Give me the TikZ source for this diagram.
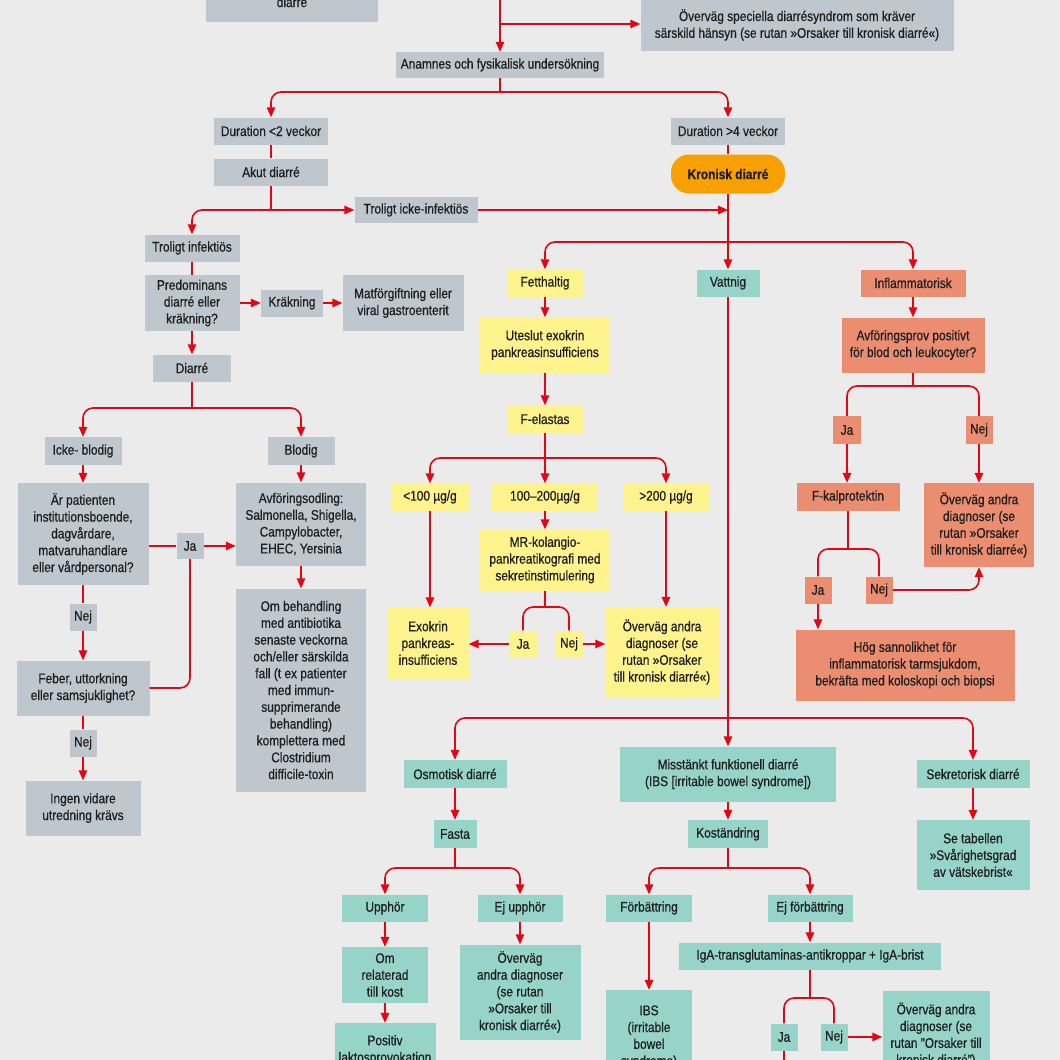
\documentclass[tikz,border=0pt]{standalone}
\usepackage{fontspec}
\setmainfont{Liberation Sans}[FakeStretch=0.85,FakeBold=0.6]
\usetikzlibrary{arrows.meta}
\definecolor{bgc}{HTML}{EBEBEB}
\definecolor{gboxc}{HTML}{BEC7CE}
\definecolor{ybox}{HTML}{FEF38C}
\definecolor{tbox}{HTML}{96D4C9}
\definecolor{sbox}{HTML}{EA8D71}
\definecolor{obox}{HTML}{F7A000}
\definecolor{redl}{HTML}{E30613}
\definecolor{txt}{HTML}{1E1E1E}
\newcommand{\fs}{\fontsize{14}{16.8}\selectfont}
\tikzset{
 bx/.style={inner sep=0pt, align=center, text=txt, font=\fs},
 gb/.style={bx, fill=gboxc},
 yb/.style={bx, fill=ybox},
 tb/.style={bx, fill=tbox},
 sb/.style={bx, fill=sbox},
 ob/.style={bx, fill=obox, rounded corners=18pt, font=\fs\bfseries},
 sz/.style 2 args={minimum width=#1pt, minimum height=#2pt},
 ln/.style={draw=redl, line width=1.6pt},
 ar/.style={ln, -{Triangle[length=10pt,width=8.5pt]}},
 rc/.style={rounded corners=10pt}
}
\begin{document}
\begin{tikzpicture}[x=1pt,y=-1pt]
\useasboundingbox (0,0) rectangle (1060,1060);
\clip (0,0) rectangle (1060,1060);
\fill[bgc] (0,0) rectangle (1060,1060);

% ---------- top ----------
\node[gb,sz={172}{40}] (tl) at (292,2) {diarré};
\node[gb,sz={313}{52}] (ovsp) at (797,25) {Överväg speciella diarrésyndrom som kräver\\särskild hänsyn (se rutan »Orsaker till kronisk diarré«)};
\node[gb,sz={208}{26}] (anam) at (500,65) {Anamnes och fysikalisk undersökning};
\node[gb,sz={114}{27}] (dur1) at (271,131) {Duration <2 veckor};
\node[gb,sz={114}{27}] (dur2) at (728,131) {Duration >4 veckor};
\node[gb,sz={114}{27}] (akut) at (271,172) {Akut diarré};
\node[ob,sz={114}{39}] (kron) at (728,174) {Kronisk diarré};
\node[gb,sz={123}{26}] (tii) at (416,210) {Troligt icke-infektiös};

% ---------- left ----------
\node[gb,sz={95}{27}] (ti) at (192,248) {Troligt infektiös};
\node[gb,sz={95}{56}] (pred) at (192,303) {Predominans\\diarré eller\\kräkning?};
\node[gb,sz={62}{27}] (krak) at (292,303) {Kräkning};
\node[gb,sz={121}{56}] (matf) at (403,303) {Matförgiftning eller\\viral gastroenterit};
\node[gb,sz={78}{27}] (diar) at (192,368) {Diarré};
\node[gb,sz={77}{28}] (icke) at (83,451) {Icke- blodig};
\node[gb,sz={67}{28}] (blod) at (301,451) {Blodig};
\node[gb,sz={131}{102}] (arp) at (83,534) {Är patienten\\institutionsboende,\\dagvårdare,\\matvaruhandlare\\eller vårdpersonal?};
\node[gb,sz={130}{83}] (avf) at (301,524) {Avföringsodling:\\Salmonella, Shigella,\\Campylobacter,\\EHEC, Yersinia};
\node[gb,sz={27}{26}] (jaL) at (190,546) {Ja};
\node[gb,sz={27}{27}] (nejL1) at (83,617) {Nej};
\node[gb,sz={133}{55}] (feb) at (83,688) {Feber, uttorkning\\eller samsjuklighet?};
\node[gb,sz={27}{27}] (nejL2) at (83,743) {Nej};
\node[gb,sz={115}{55}] (ing) at (83,808) {Ingen vidare\\utredning krävs};
\node[gb,sz={130}{203}] (omb) at (301,690) {Om behandling\\med antibiotika\\senaste veckorna\\och/eller särskilda\\fall (t ex patienter\\med immun-\\supprimerande\\behandling)\\komplettera med\\Clostridium\\difficile-toxin};

% ---------- fetthaltig ----------
\node[yb,sz={77}{27}] (fett) at (545,283) {Fetthaltig};
\node[yb,sz={130}{55}] (utes) at (545,345) {Uteslut exokrin\\pankreasinsufficiens};
\node[yb,sz={77}{27}] (fel) at (545,419) {F-elastas};
\node[yb,sz={78}{27}] (lt) at (430,497) {<100 µg/g};
\node[yb,sz={106}{27}] (mid) at (545,497) {100–200µg/g};
\node[yb,sz={85}{27}] (gt) at (666,497) {>200 µg/g};
\node[yb,sz={130}{61}] (mr) at (545,560) {MR-kolangio-\\pankreatikografi med\\sekretinstimulering};
\node[yb,sz={27}{27}] (jaY) at (523,644) {Ja};
\node[yb,sz={27}{27}] (nejY) at (569,644) {Nej};
\node[yb,sz={81}{71}] (exo) at (428,643) {Exokrin\\pankreas-\\insufficiens};
\node[yb,sz={113}{90}] (ovY) at (662,652) {Överväg andra\\diagnoser (se\\rutan »Orsaker\\till kronisk diarré«)};

% ---------- inflammatorisk ----------
\node[tb,sz={63}{27}] (vatt) at (728,283) {Vattnig};
\node[sb,sz={105}{27}] (infl) at (913,283) {Inflammatorisk};
\node[sb,sz={143}{55}] (avp) at (913,345) {Avföringsprov positivt\\för blod och leukocyter?};
\node[sb,sz={28}{28}] (jaR) at (847,430) {Ja};
\node[sb,sz={27}{28}] (nejR) at (979,430) {Nej};
\node[sb,sz={103}{28}] (fkal) at (848,497) {F-kalprotektin};
\node[sb,sz={110}{84}] (ovR) at (979,525) {Överväg andra\\diagnoser (se\\rutan »Orsaker\\till kronisk diarré«)};
\node[sb,sz={27}{27}] (jaR2) at (818,590) {Ja};
\node[sb,sz={27}{27}] (nejR2) at (879,590) {Nej};
\node[sb,sz={219}{71}] (hog) at (905,665) {Hög sannolikhet för\\inflammatorisk tarmsjukdom,\\bekräfta med koloskopi och biopsi};

% ---------- vattnig ----------
\node[tb,sz={103}{28}] (osm) at (455,774) {Osmotisk diarré};
\node[tb,sz={216}{55}] (miss) at (728,774) {Misstänkt funktionell diarré\\(IBS [irritable bowel syndrome])};
\node[tb,sz={113}{28}] (sekr) at (973,774) {Sekretorisk diarré};
\node[tb,sz={43}{28}] (fast) at (455,834) {Fasta};
\node[tb,sz={80}{28}] (kost) at (728,834) {Koständring};
\node[tb,sz={113}{70}] (setab) at (973,855) {Se tabellen\\»Svårighetsgrad\\av vätskebrist«};
\node[tb,sz={86}{27}] (upph) at (385,908) {Upphör};
\node[tb,sz={85}{27}] (ejup) at (520,908) {Ej upphör};
\node[tb,sz={86}{56}] (omrel) at (385,975) {Om\\relaterad\\till kost};
\node[tb,sz={121}{95}] (ovT1) at (520,992) {Överväg\\andra diagnoser\\(se rutan\\»Orsaker till\\kronisk diarré«)};
\node[tb,sz={101}{54}] (pos) at (385,1050) {Positiv\\laktosprovokation};
\node[tb,sz={86}{27}] (forb) at (649,908) {Förbättring};
\node[tb,sz={85}{27}] (ejforb) at (810,908) {Ej förbättring};
\node[tb,sz={262}{27}] (iga) at (810,956) {IgA-transglutaminas-antikroppar + IgA-brist};
\node[tb,sz={86}{94}] (ibs) at (649,1037) {IBS\\(irritable\\bowel\\syndrome)};
\node[tb,sz={27}{27}] (jaT) at (784,1037) {Ja};
\node[tb,sz={27}{27}] (nejT) at (834,1037) {Nej};
\node[tb,sz={107}{88}] (ovT2) at (936,1035) {Överväg andra\\diagnoser (se\\rutan "Orsaker till\\kronisk diarré")};

% ---------- junction coordinates ----------
\coordinate (ttop) at (500,-2);
\coordinate (topj) at (500,24);
\coordinate (aj0) at (500,92);
\coordinate (akj) at (271,210);
\coordinate (kline) at (728,210);
\coordinate (kj) at (728,242);
\coordinate (dj) at (192,408);
\coordinate (fj) at (545,458);
\coordinate (mj) at (545,607);
\coordinate (rj) at (913,386);
\coordinate (fkj) at (848,549);
\coordinate (vj) at (728,718);
\coordinate (oj) at (455,868);
\coordinate (kj2) at (728,868);
\coordinate (ij) at (810,998);
\coordinate (jaTend) at (784,1075);

% ---------- connectors ----------
\draw[ar] (ttop) -- (anam.north);
\draw[ar] (topj) -- (topj -| ovsp.west);
\draw[ln] (anam.south) -- (aj0);
\draw[ar,rc] (aj0) -| (dur1.north);
\draw[ar,rc] (aj0) -| (dur2.north);
\draw[ln] (dur1.south) -- (akut.north);
\draw[ln] (dur2.south) -- (kron.north);
\draw[ln] (akut.south) -- (akj);
\draw[ar,rc] (akj) -| (ti.north);
\draw[ar] (akj) -- (tii.west);
\draw[ar] (tii.east) -- (kline);
\draw[ln] (kron.south) -- (kj);

% left
\draw[ln] (ti.south) -- (pred.north);
\draw[ar] (pred.east) -- (krak.west);
\draw[ar] (krak.east) -- (matf.west);
\draw[ar] (pred.south) -- (diar.north);
\draw[ln] (diar.south) -- (dj);
\draw[ar,rc] (dj) -| (icke.north);
\draw[ar,rc] (dj) -| (blod.north);
\draw[ar] (icke.south) -- (arp.north);
\draw[ar] (blod.south) -- (avf.north);
\draw[ar] (avf.south) -- (omb.north);
\draw[ln] (jaL.west) -- (jaL.west -| arp.east);
\draw[ar] (jaL.east) -- (jaL.east -| avf.west);
\draw[ln,rc] (feb.east) -| (jaL.south);
\draw[ln] (arp.south) -- (nejL1.north);
\draw[ar] (nejL1.south) -- (feb.north);
\draw[ln] (feb.south) -- (nejL2.north);
\draw[ar] (nejL2.south) -- (ing.north);

% kronisk branches
\draw[ar,rc] (kj) -| (fett.north);
\draw[ar] (kj) -- (vatt.north);
\draw[ar,rc] (kj) -| (infl.north);

% fetthaltig
\draw[ar] (fett.south) -- (utes.north);
\draw[ar] (utes.south) -- (fel.north);
\draw[ln] (fel.south) -- (fj);
\draw[ar,rc] (fj) -| (lt.north);
\draw[ar] (fj) -- (mid.north);
\draw[ar,rc] (fj) -| (gt.north);
\draw[ar] (mid.south) -- (mr.north);
\draw[ln] (mr.south) -- (mj);
\draw[ln,rc] (mj) -| (jaY.north);
\draw[ln,rc] (mj) -| (nejY.north);
\draw[ar] (jaY.west) -- (jaY.west -| exo.east);
\draw[ar] (nejY.east) -- (nejY.east -| ovY.west);
\draw[ar] (lt.south) -- (lt.south |- exo.north);
\draw[ar] (gt.south) -- (gt.south |- ovY.north);

% inflammatorisk
\draw[ar] (infl.south) -- (avp.north);
\draw[ln] (avp.south) -- (rj);
\draw[ln,rc] (rj) -| (jaR.north);
\draw[ln,rc] (rj) -| (nejR.north);
\draw[ar] (jaR.south) -- (jaR.south |- fkal.north);
\draw[ar] (nejR.south) -- (ovR.north);
\draw[ln] (fkal.south) -- (fkj);
\draw[ln,rc] (fkj) -| (jaR2.north);
\draw[ln,rc] (fkj) -| (nejR2.north);
\draw[ar] (jaR2.south) -- (jaR2.south |- hog.north);
\draw[ar,rc] (nejR2.east) -| (ovR.south);

% vattnig
\draw[ln] (vatt.south) -- (vj);
\draw[ar,rc] (vj) -| (osm.north);
\draw[ar] (vj) -- (miss.north);
\draw[ar,rc] (vj) -| (sekr.north);
\draw[ar] (osm.south) -- (fast.north);
\draw[ar] (miss.south) -- (kost.north);
\draw[ar] (sekr.south) -- (setab.north);
\draw[ln] (fast.south) -- (oj);
\draw[ar,rc] (oj) -| (upph.north);
\draw[ar,rc] (oj) -| (ejup.north);
\draw[ar] (upph.south) -- (omrel.north);
\draw[ar] (omrel.south) -- (pos.north);
\draw[ar] (ejup.south) -- (ovT1.north);
\draw[ln] (kost.south) -- (kj2);
\draw[ar,rc] (kj2) -| (forb.north);
\draw[ar,rc] (kj2) -| (ejforb.north);
\draw[ar] (forb.south) -- (ibs.north);
\draw[ar] (ejforb.south) -- (iga.north);
\draw[ln] (iga.south) -- (ij);
\draw[ln,rc] (ij) -| (jaT.north);
\draw[ln,rc] (ij) -| (nejT.north);
\draw[ar] (nejT.east) -- (nejT.east -| ovT2.west);
\draw[ln] (jaT.south) -- (jaTend);
\end{tikzpicture}
\end{document}
